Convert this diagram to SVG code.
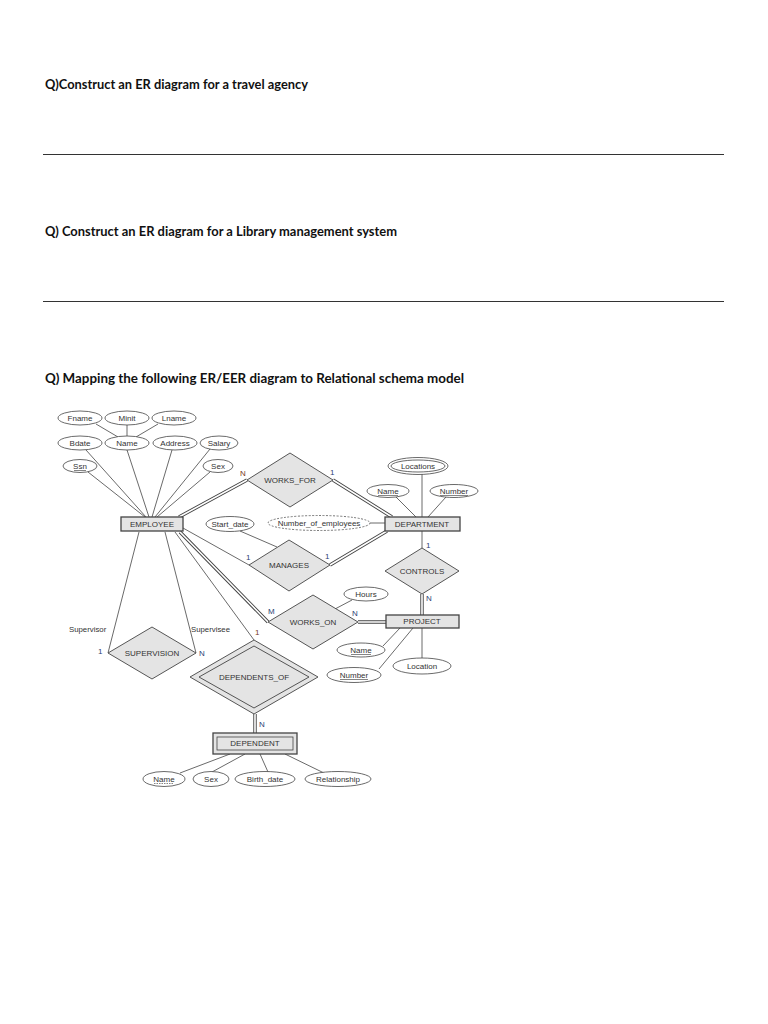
<svg xmlns="http://www.w3.org/2000/svg" width="768" height="1024" viewBox="0 0 768 1024">
<style>
.t{font-family:"Lato","Liberation Sans",sans-serif;font-weight:bold;font-size:13px;fill:#111}
.l{font-family:"Liberation Sans",Arial,sans-serif;font-size:8px;fill:#333;text-anchor:middle;dominant-baseline:central}
.c{font-family:"Liberation Sans",Arial,sans-serif;font-size:8px;fill:#2b3f73;dominant-baseline:central}
.r{font-family:"Liberation Sans",Arial,sans-serif;font-size:7.8px;fill:#333;dominant-baseline:central}
.a{fill:#fff;stroke:#444;stroke-width:0.8}
.s{fill:#e4e4e4;stroke:#444;stroke-width:0.9}
.e{fill:#e4e4e4;stroke:#444;stroke-width:1.3}
.ln{stroke:#444;stroke-width:0.8;fill:none}
.d1{stroke:#444;stroke-width:3.4;fill:none}
.d2{stroke:#fff;stroke-width:1.6;fill:none}
.u{stroke:#333;stroke-width:0.6}
</style>
<rect width="768" height="1024" fill="#fff"/>
<g id="titles">
<text class="t" x="45" y="89" textLength="263" lengthAdjust="spacingAndGlyphs">Q)Construct an ER diagram for a travel agency</text>
<line x1="43" y1="154.5" x2="724" y2="154.5" stroke="#333" stroke-width="1.2"/>
<text class="t" x="45" y="236" textLength="352" lengthAdjust="spacingAndGlyphs">Q) Construct an ER diagram for a Library management system</text>
<line x1="43" y1="301.5" x2="724" y2="301.5" stroke="#333" stroke-width="1.2"/>
<text class="t" x="45" y="383" textLength="419" lengthAdjust="spacingAndGlyphs">Q) Mapping the following ER/EER diagram to Relational schema model</text>
</g>
<g id="connectors">
<line class="ln" x1="96" y1="424" x2="118" y2="437"/>
<line class="ln" x1="127" y1="425" x2="127" y2="436"/>
<line class="ln" x1="158" y1="424" x2="136" y2="437"/>
<line class="ln" x1="86" y1="450" x2="146" y2="517"/>
<line class="ln" x1="127" y1="450" x2="149" y2="517"/>
<line class="ln" x1="172" y1="450" x2="152" y2="517"/>
<line class="ln" x1="210" y1="449" x2="155" y2="517"/>
<line class="ln" x1="88" y1="472" x2="145" y2="517"/>
<line class="ln" x1="210" y1="472" x2="157" y2="517"/>
<path class="d1" d="M179,517 L247,480 M333,480 L392,517 M330,565 L387,531 M422,594 L422,615 M180,532 L268,622 M358,622 L386,622 M255,714 L255,733"/>
<path class="d2" d="M179,517 L247,480 M333,480 L392,517 M330,565 L387,531 M422,594 L422,615 M180,532 L268,622 M358,622 L386,622 M255,714 L255,733"/>
<line class="ln" x1="422" y1="474" x2="422" y2="517"/>
<line class="ln" x1="396" y1="497" x2="416" y2="517"/>
<line class="ln" x1="446" y1="497" x2="428" y2="517"/>
<line class="ln" x1="370" y1="523" x2="385" y2="523"/>
<line class="ln" x1="240" y1="531" x2="277" y2="547"/>
<line class="ln" x1="183" y1="528" x2="249" y2="565"/>
<line class="ln" x1="422" y1="531" x2="422" y2="548"/>
<line class="ln" x1="175" y1="532" x2="254" y2="640"/>
<line class="ln" x1="139" y1="532" x2="108" y2="653"/>
<line class="ln" x1="165" y1="532" x2="196" y2="653"/>
<line class="ln" x1="352" y1="600" x2="335" y2="609"/>
<line class="ln" x1="400" y1="628" x2="383" y2="646"/>
<line class="ln" x1="413" y1="628" x2="379" y2="669"/>
<line class="ln" x1="422" y1="628" x2="422" y2="658"/>
<line class="ln" x1="230" y1="754" x2="180" y2="773"/>
<line class="ln" x1="245" y1="754" x2="212" y2="772"/>
<line class="ln" x1="260" y1="754" x2="268" y2="772"/>
<line class="ln" x1="285" y1="754" x2="324" y2="773"/>
</g>
<g id="Fname"><ellipse class="a" cx="80" cy="418" rx="22" ry="7"/><text class="l" x="80" y="418">Fname</text></g>
<g id="Minit"><ellipse class="a" cx="127" cy="418" rx="22" ry="7"/><text class="l" x="127" y="418">Minit</text></g>
<g id="Lname"><ellipse class="a" cx="174" cy="418" rx="22" ry="7"/><text class="l" x="174" y="418">Lname</text></g>
<g id="Bdate"><ellipse class="a" cx="80" cy="443" rx="22" ry="7"/><text class="l" x="80" y="443">Bdate</text></g>
<g id="Name"><ellipse class="a" cx="127" cy="443" rx="22" ry="7"/><text class="l" x="127" y="443">Name</text></g>
<g id="Address"><ellipse class="a" cx="175" cy="443" rx="22" ry="7"/><text class="l" x="175" y="443">Address</text></g>
<g id="Salary"><ellipse class="a" cx="219" cy="443" rx="19" ry="7"/><text class="l" x="219" y="443">Salary</text></g>
<g id="Ssn"><ellipse class="a" cx="80" cy="466" rx="17" ry="6.5"/><text class="l" x="80" y="466">Ssn</text><line class="u" x1="74" y1="470.5" x2="86" y2="470.5"/></g>
<g id="Sex"><ellipse class="a" cx="218" cy="466" rx="15" ry="6.5"/><text class="l" x="218" y="466">Sex</text></g>
<g id="EMPLOYEE"><rect class="e" x="121" y="517" width="62" height="14"/><text class="l" x="152" y="524">EMPLOYEE</text></g>
<g id="WORKS_FOR"><polygon class="s" points="290,453 333,480 290,507 247,480"/><text class="l" x="290" y="480">WORKS_FOR</text></g>
<g id="Locations"><ellipse class="a" cx="418" cy="466" rx="30" ry="8.5"/><ellipse class="a" cx="418" cy="466" rx="27" ry="6"/><text class="l" x="418" y="466">Locations</text></g>
<g id="Dept_Name"><ellipse class="a" cx="388" cy="491" rx="21" ry="6.5"/><text class="l" x="388" y="491">Name</text><line class="u" x1="378" y1="495.5" x2="398" y2="495.5"/></g>
<g id="Dept_Number"><ellipse class="a" cx="454" cy="491" rx="24" ry="6.5"/><text class="l" x="454" y="491">Number</text><line class="u" x1="440" y1="495.5" x2="468" y2="495.5"/></g>
<g id="DEPARTMENT"><rect class="e" x="385" y="517" width="75" height="14"/><text class="l" x="422" y="524">DEPARTMENT</text></g>
<g id="Number_of_employees"><ellipse cx="319" cy="523" rx="51" ry="7.5" fill="#fff" stroke="#555" stroke-width="0.8" stroke-dasharray="2,1.5"/><text class="l" x="319" y="523">Number_of_employees</text></g>
<g id="Start_date"><ellipse class="a" cx="230" cy="524" rx="24" ry="7.5"/><text class="l" x="230" y="524">Start_date</text></g>
<g id="MANAGES"><polygon class="s" points="289,540 330,565 289,591 249,565"/><text class="l" x="289" y="565">MANAGES</text></g>
<g id="CONTROLS"><polygon class="s" points="422,548 459,571 422,594 385,571"/><text class="l" x="422" y="571">CONTROLS</text></g>
<g id="Hours"><ellipse class="a" cx="366" cy="594" rx="22" ry="7"/><text class="l" x="366" y="594">Hours</text></g>
<g id="WORKS_ON"><polygon class="s" points="313,595 358,622 313,649 268,622"/><text class="l" x="313" y="622">WORKS_ON</text></g>
<g id="PROJECT"><rect class="e" x="386" y="615" width="73" height="13"/><text class="l" x="422" y="621.5">PROJECT</text></g>
<g id="Proj_Name"><ellipse class="a" cx="361" cy="650" rx="24" ry="7"/><text class="l" x="361" y="650">Name</text><line class="u" x1="351" y1="654.5" x2="371" y2="654.5"/></g>
<g id="Proj_Number"><ellipse class="a" cx="354" cy="675" rx="27" ry="7.5"/><text class="l" x="354" y="675">Number</text><line class="u" x1="340" y1="679.5" x2="368" y2="679.5"/></g>
<g id="Location"><ellipse class="a" cx="422" cy="666" rx="29" ry="8"/><text class="l" x="422" y="666">Location</text></g>
<g id="SUPERVISION"><polygon class="s" points="152,627 196,653 152,679 108,653"/><text class="l" x="152" y="653">SUPERVISION</text></g>
<g id="DEPENDENTS_OF"><polygon class="s" points="254,640 318,677 254,714 190,677"/><polygon class="s" points="254,646 309,677 254,708 199,677"/><text class="l" x="254" y="677">DEPENDENTS_OF</text></g>
<g id="DEPENDENT"><rect class="e" x="213" y="733" width="84" height="21"/><rect fill="#e4e4e4" stroke="#444" stroke-width="0.8" x="217" y="737" width="76" height="13"/><text class="l" x="255" y="743.5">DEPENDENT</text></g>
<g id="Dep_Name"><ellipse class="a" cx="164" cy="779" rx="21" ry="7.5"/><text class="l" x="164" y="779">Name</text><line class="u" x1="154" y1="783.5" x2="174" y2="783.5" stroke-dasharray="1.5,1"/></g>
<g id="Dep_Sex"><ellipse class="a" cx="211" cy="779" rx="18" ry="7.5"/><text class="l" x="211" y="779">Sex</text></g>
<g id="Birth_date"><ellipse class="a" cx="265" cy="779" rx="30" ry="7.5"/><text class="l" x="265" y="779">Birth_date</text></g>
<g id="Relationship"><ellipse class="a" cx="338" cy="779" rx="33" ry="7.5"/><text class="l" x="338" y="779">Relationship</text></g>
<g id="labels">
<text class="c" x="240" y="473" fill="#7a3a1a" style="fill:#7a3a1a">N</text>
<text class="c" x="330" y="472">1</text>
<text class="c" x="246" y="557">1</text>
<text class="c" x="325" y="556">1</text>
<text class="c" x="426" y="545">1</text>
<text class="c" x="426" y="598">N</text>
<text class="c" x="268" y="611">M</text>
<text class="c" x="352" y="613">N</text>
<text class="c" x="255" y="632" style="fill:#7a3a1a">1</text>
<text class="c" x="259" y="724">N</text>
<text class="c" x="98" y="651">1</text>
<text class="c" x="199" y="653">N</text>
<text class="r" x="69" y="629">Supervisor</text>
<text class="r" x="191" y="629">Supervisee</text>
</g>
</svg>
